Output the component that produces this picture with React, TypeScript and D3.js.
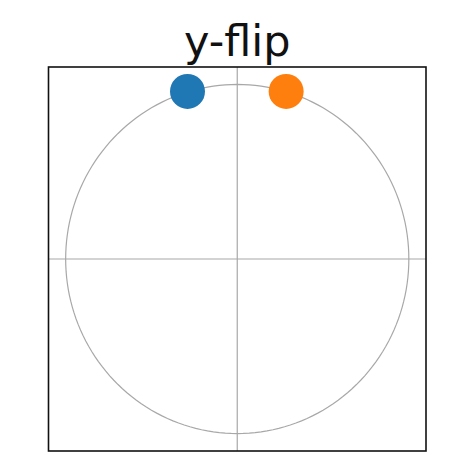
import React from "react";
import * as d3 from "d3";

const pointNames = ["blue", "orange"];
const pointX = [-0.29, 0.285];
const pointY = [0.96, 0.96];
const pointColors = ["#1f77b4", "#ff7f0e"];
const xDomain = [-1.1, 1.1];
const yDomain = [-1.1, 1.1];
const circleSteps = d3.range(0, 361, 2);
const title = "y-flip";

export default function App() {
  const W = 474, H = 474;
  const left = 48.5, right = 426, top = 67, bottom = 451;
  const x = d3.scaleLinear().domain(xDomain).range([left, right]);
  const y = d3.scaleLinear().domain(yDomain).range([bottom, top]);
  const line = d3
    .line<number>()
    .x((a) => x(Math.cos((a * Math.PI) / 180)))
    .y((a) => y(Math.sin((a * Math.PI) / 180)));
  return (
    <svg width={W} height={H} style={{ position: "absolute", left: 0, top: 0, background: "white" }}>
      <text x={(left + right) / 2} y={56} textAnchor="middle" fontFamily="DejaVu Sans" fontSize={43} fill="#111">
        {title}
      </text>
      <path d={line(circleSteps) || ""} fill="none" stroke="#a8a8a8" strokeWidth={1.2} />
      <line x1={x(0)} x2={x(0)} y1={top} y2={bottom} stroke="#a8a8a8" strokeWidth={1.2} />
      <line x1={left} x2={right} y1={y(0)} y2={y(0)} stroke="#a8a8a8" strokeWidth={1.2} />
      {pointNames.map((n, i) => (
        <circle key={n} cx={x(pointX[i])} cy={y(pointY[i])} r={17.5} fill={pointColors[i]} />
      ))}
      <rect x={left} y={top} width={right - left} height={bottom - top} fill="none" stroke="#111" strokeWidth={1.6} />
    </svg>
  );
}
